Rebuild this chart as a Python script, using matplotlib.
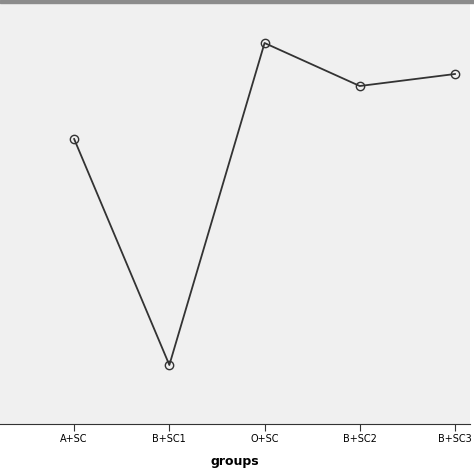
import matplotlib.pyplot as plt

groups = ['A+SC', 'B+SC1', 'O+SC', 'B+SC2', 'B+SC3']
values = [285, 59, 381, 338, 350]

fig = plt.figure(figsize=(4.74, 4.74), dpi=100)
fig.patch.set_facecolor('white')
# thin dark band at the very top
fig.add_artist(plt.Rectangle((0, 1 - 3/474), 1, 3/474, transform=fig.transFigure, color='#8c8c8c'))
ax = fig.add_axes([0, 50/474, 470/474, 421/474])
ax.set_facecolor('#f0f0f0')

x = list(range(1, len(groups) + 1))
ax.plot(x, values, color='#333333', lw=1.3, marker='o', markersize=6,
        markerfacecolor='none', markeredgecolor='#333333')
ax.set_xlim(1 - 74/95, 5 + 15/95)
ax.set_ylim(0, 421)
ax.set_xticks(x)
ax.set_xticklabels(groups, fontsize=7)
ax.set_yticks([])
for s in ['top', 'right', 'left']:
    ax.spines[s].set_visible(False)
ax.spines['bottom'].set_color('#333333')
ax.tick_params(axis='x', length=5, color='#333333', pad=2)
ax.set_xlabel('groups', fontsize=9, fontweight='bold', labelpad=8)

fig.savefig('out.png', dpi=100)
